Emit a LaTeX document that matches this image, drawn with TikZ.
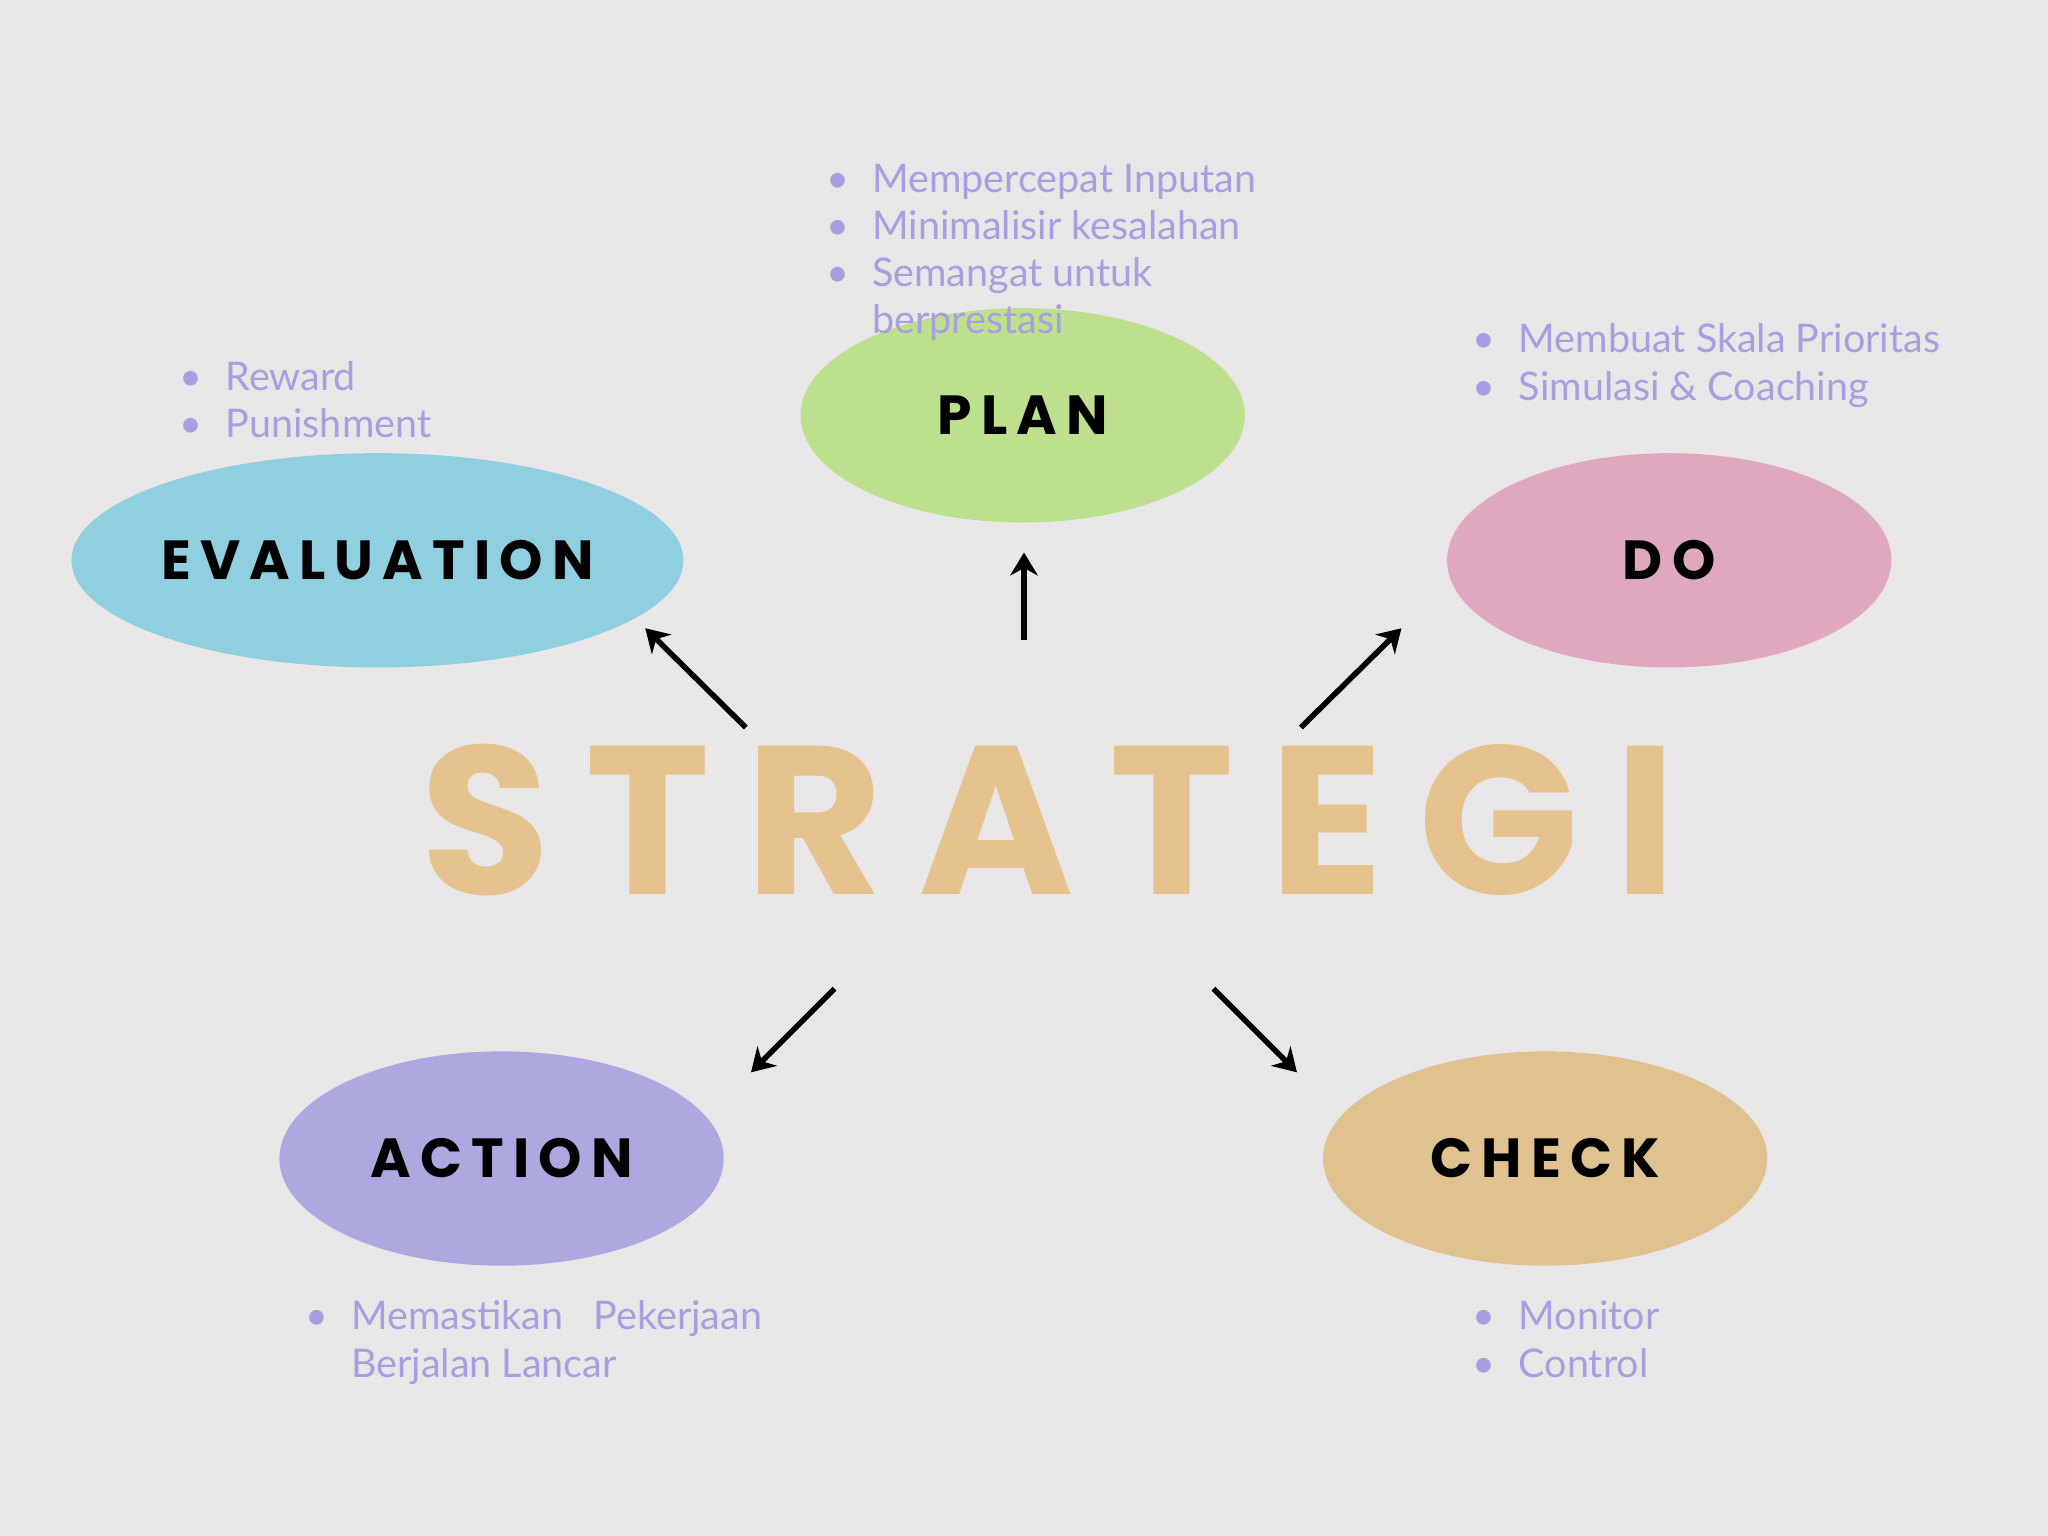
\documentclass[tikz,border=0pt]{standalone}
\usepackage{fontspec}
\setmainfont{Lato}
\newfontfamily\headfont{Poppins}[UprightFont=* Bold]
\usetikzlibrary{arrows.meta}
\definecolor{bg}{HTML}{E8E6E6}
\definecolor{cplan}{HTML}{BDE08F}
\definecolor{ceval}{HTML}{8FCFE0}
\definecolor{cdo}{HTML}{E0A8C0}
\definecolor{cact}{HTML}{ADA8E0}
\definecolor{cchk}{HTML}{E0C290}
\definecolor{ctxt}{HTML}{A99FE0}
\definecolor{cstr}{HTML}{E6C28E}
\begin{document}
\begin{tikzpicture}[x=0.01cm,y=-0.01cm,
  blob/.style={ellipse, minimum width=3.4cm, minimum height=1.64cm, inner sep=0pt, font=\headfont\fontsize{12}{14}\selectfont},
  note/.style={anchor=north west, inner sep=0pt, text=ctxt, font=\fontsize{8.6}{10.3}\selectfont, align=left},
  arr/.style={-{Stealth[length=5pt,width=6pt]}, line width=1.2pt}]
\usetikzlibrary{shapes.geometric}
\fill[bg] (0,0) rectangle (1568,1176);
\node[blob, fill=cplan] (plan) at (783,318) {P\,L\,A\,N};
\node[blob, fill=ceval] (eval) at (289,429) {E\,V\,A\,L\,U\,A\,T\,I\,O\,N};
\node[blob, fill=cdo] (do) at (1278,429) {D\,O};
\node[blob, fill=cact] (act) at (384,887) {A\,C\,T\,I\,O\,N};
\node[blob, fill=cchk] (chk) at (1183,887) {C\,H\,E\,C\,K};
\node[text=cstr, font=\headfont\fontsize{46}{50}\selectfont] (str) at (803,628) {S\,T\,R\,A\,T\,E\,G\,I};
\coordinate (a1s) at (571,557); \coordinate (a1e) at (494,481);
\coordinate (a2s) at (784,490); \coordinate (a2e) at (784,423);
\coordinate (a3s) at (996,557); \coordinate (a3e) at (1073,481);
\coordinate (a4s) at (639,757); \coordinate (a4e) at (575,821);
\coordinate (a5s) at (929,757); \coordinate (a5e) at (993,821);
\draw[arr] (a1s) -- (a1e);
\draw[arr] (a2s) -- (a2e);
\draw[arr] (a3s) -- (a3e);
\draw[arr] (a4s) -- (a4e);
\draw[arr] (a5s) -- (a5e);
\node[note] (n1) at (632,121) {\begin{tabular}{@{}l@{\hspace{5pt}}l@{}}•&Mempercepat Inputan\\•&Minimalisir kesalahan\\•&Semangat untuk\\&berprestasi\end{tabular}};
\node[note] (n2) at (1127,244) {\begin{tabular}{@{}l@{\hspace{5pt}}l@{}}•&Membuat Skala Prioritas\\•&Simulasi \& Coaching\end{tabular}};
\node[note] (n3) at (137,273) {\begin{tabular}{@{}l@{\hspace{5pt}}l@{}}•&Reward\\•&Punishment\end{tabular}};
\node[note] (n4) at (233,992) {\begin{tabular}{@{}l@{\hspace{5pt}}l@{}}•&Memastikan\ \ \ Pekerjaan\\&Berjalan Lancar\end{tabular}};
\node[note] (n5) at (1127,992) {\begin{tabular}{@{}l@{\hspace{5pt}}l@{}}•&Monitor\\•&Control\end{tabular}};
\end{tikzpicture}
\end{document}
